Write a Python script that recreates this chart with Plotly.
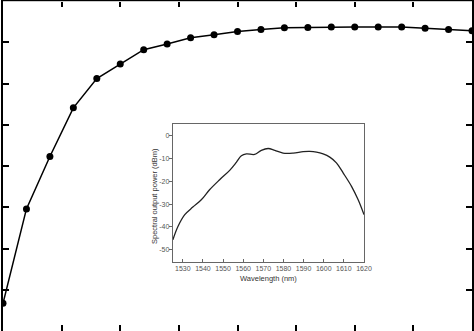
import plotly.graph_objects as go

# Main chart (no visible labels): x index, y value in tick units
main_x = list(range(21))
main_y = [0.67, 2.96, 4.23, 5.41, 6.12, 6.47, 6.82, 6.96, 7.11, 7.18, 7.26,
          7.31, 7.35, 7.36, 7.37, 7.37, 7.37, 7.37, 7.34, 7.31, 7.28]

# Inset: spectral output power vs wavelength
wavelength = [1525.1, 1527.6, 1531.0, 1535.0, 1539.2, 1543.3, 1548.3, 1553.3,
              1556.6, 1559.1, 1561.6, 1565.7, 1569.0, 1572.4, 1575.7, 1579.8,
              1584.8, 1589.8, 1593.1, 1596.4, 1599.7, 1603.0, 1606.3, 1609.7,
              1613.8, 1617.1, 1620.0]
power_dbm = [-45.6, -39.8, -34.6, -31.3, -28.1, -23.7, -19.3, -15.2,
             -11.7, -8.8, -8.0, -8.2, -6.4, -5.6, -6.4, -7.6,
             -7.6, -7.0, -6.9, -7.2, -8.0, -9.4, -11.9, -16.4,
             -22.2, -28.1, -34.6]
inset_xticks = [1530, 1540, 1550, 1560, 1570, 1580, 1590, 1600, 1610, 1620]
inset_yticks = [0, -10, -20, -30, -40, -50]
inset_xtitle = "Wavelength (nm)"
inset_ytitle = "Spectral output power (dBm)"

fig = go.Figure()
fig.add_trace(go.Scatter(
    x=main_x, y=main_y, mode="lines+markers",
    line=dict(color="black", width=1.5),
    marker=dict(color="black", size=7),
    xaxis="x", yaxis="y", showlegend=False))
fig.add_trace(go.Scatter(
    x=wavelength, y=power_dbm, mode="lines",
    line=dict(color="#222222", width=1.3, shape="spline"),
    xaxis="x2", yaxis="y2", showlegend=False))

W, H = 474, 331
ml, mr, mt, mb = 3, 2, 1, 0
pw, ph = W - ml - mr, H - mt - mb
def px_x(p):
    return (p - ml) / pw
def px_y(p):
    return (H - mb - p) / ph

fig.update_layout(
    width=W, height=H, autosize=False, showlegend=False,
    margin=dict(l=ml, r=mr, t=mt, b=mb, pad=0, autoexpand=False),
    paper_bgcolor="white", plot_bgcolor="white",
    font=dict(family="Liberation Sans, Arial, sans-serif", color="#444444"),
    xaxis=dict(domain=[0, 1], range=[0, 20], tick0=0, dtick=2.5, ticks="inside", ticklen=6,
               tickwidth=1.5, tickcolor="black", showline=True, linecolor="black",
               linewidth=1.5, mirror="ticks", showgrid=False, zeroline=False,
               showticklabels=False, automargin=False),
    yaxis=dict(domain=[0, 1], range=[0, 8], tick0=0, dtick=1, ticks="inside", ticklen=6,
               tickwidth=1.5, tickcolor="black", showline=True, linecolor="black",
               linewidth=1.5, mirror="ticks", showgrid=False, zeroline=False,
               showticklabels=False, automargin=False),
    xaxis2=dict(domain=[px_x(172.7), px_x(364)], anchor="y2",
                range=[1525, 1620], tickvals=inset_xticks,
                ticktext=[str(v) for v in inset_xticks],
                ticks="inside", ticklen=3, tickwidth=1, tickcolor="#666666",
                showline=True, linecolor="#666666", linewidth=1, mirror=True,
                showgrid=False, zeroline=False, automargin=False,
                ticklabelstandoff=-1,
                tickfont=dict(size=7, color="#555555")),
    yaxis2=dict(domain=[px_y(262.3), px_y(124.3)], anchor="x2",
                range=[-55.5, 5], tickvals=inset_yticks,
                ticktext=[str(v) for v in inset_yticks],
                ticks="outside", ticklen=3, tickwidth=1, tickcolor="#666666",
                showline=True, linecolor="#666666", linewidth=1, mirror=True,
                showgrid=False, zeroline=False, automargin=False,
                ticklabelstandoff=-2,
                tickfont=dict(size=7, color="#555555")),
    shapes=[
        dict(type="rect", xref="paper", yref="paper",
             x0=px_x(172.7), x1=px_x(364), y0=px_y(262.3), y1=px_y(124.3),
             fillcolor="white", line=dict(width=0), layer="below"),
        dict(type="rect", xref="paper", yref="paper",
             x0=0, x1=1, y0=px_y(2), y1=1,
             fillcolor="#cccccc", line=dict(width=0), layer="above"),
    ],
    annotations=[
        dict(text=inset_xtitle, xref="paper", yref="paper",
             x=px_x(268), y=px_y(278), showarrow=False,
             xanchor="center", yanchor="middle",
             font=dict(size=7.5, color="#333333")),
        dict(text=inset_ytitle, xref="paper", yref="paper",
             x=px_x(155), y=px_y(196), showarrow=False, textangle=-90,
             xanchor="center", yanchor="middle",
             font=dict(size=7.5, color="#333333")),
    ],
)

fig.write_html("out.html")
